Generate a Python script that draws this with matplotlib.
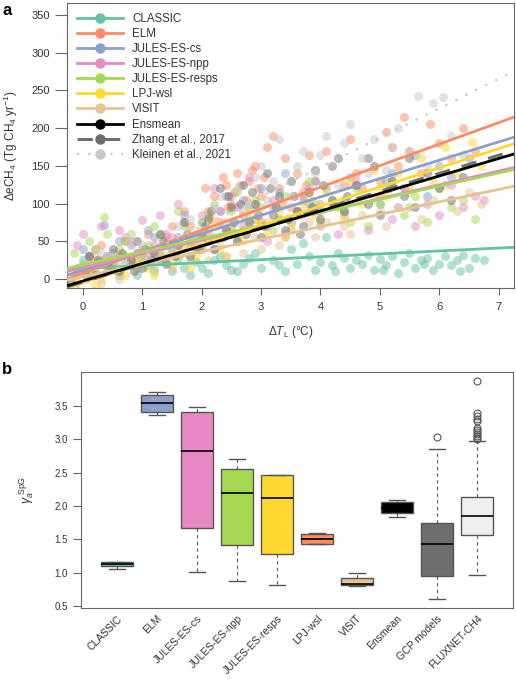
import numpy as np
import matplotlib
matplotlib.use("Agg")
import matplotlib.pyplot as plt
from matplotlib.lines import Line2D

plt.rcParams['font.family'] = ['Liberation Sans', 'DejaVu Sans']
plt.rcParams['mathtext.fontset'] = 'custom'
plt.rcParams['mathtext.rm'] = 'Liberation Sans'
plt.rcParams['mathtext.it'] = 'Liberation Sans:italic'

# ---- panel a data ----
series = ['CLASSIC', 'ELM', 'JULES-ES-cs', 'JULES-ES-npp', 'JULES-ES-resps',
          'LPJ-wsl', 'VISIT', 'Ensmean', 'Zhang et al., 2017', 'Kleinen et al., 2021']
colors = ['#66c2a5', '#fc8d62', '#8da0cb', '#e78ac3', '#a6d854',
          '#ffd92f', '#e5c494', '#000000', '#6e6e6e', '#c8c8c8']
slopes = [3.85, 28.5, 24.3, 18.3, 17.4, 25.4, 16.5, 23.2, 24.0, 39.0]
intercepts = [14.0, 7.7, 11.6, 15.0, 18.7, -5.1, 3.2, -2.7, -4.0, -7.7]

classic_x = [-0.1, 0.1, 0.3, 0.5, 0.7, 0.9, 1.1, 1.3, 1.5, 1.7, 1.9, 2.1, 2.3, 2.5, 2.7, 2.9, 3.0,
             3.2, 3.4, 3.5, 3.6, 3.7, 3.8, 3.9, 4.0, 4.1, 4.2, 4.3, 4.4, 4.5, 4.6, 4.7, 4.8, 4.9,
             5.0, 5.1, 5.2, 5.3, 5.4, 5.5, 5.6, 5.7, 5.8, 5.9, 6.0, 6.1, 6.2, 6.3, 6.4, 6.5, 6.6, 6.75,
             0.0, 0.2, 0.4, 0.6, 0.8, 1.0, 1.2, 1.4, 1.6, 1.8, 2.0, 2.2, 2.4, 2.6, 2.8, 3.3, 4.25,
             5.05, 5.75, 6.35]
classic_y = [15, 8, 20, 12, 25, 5, 18, 28, 10, 15, 22, 8, 30, 12, 20, 35, 15,
             25, 10, 40, 20, 48, 30, 12, 22, 55, 18, 35, 28, 15, 25, 20, 32, 12,
             26, 18, 30, 8, 22, 35, 15, 25, 28, 12, 20, 30, 18, 25, 32, 15, 28, 25,
             25, 12, 30, 5, 18, 35, 10, 22, 28, 5, 15, 25, 18, 10, 28, 18, 10,
             12, 20, 10]
elm_x = [-0.15, 0.0, 0.2, 0.4, 0.6, 0.8, 1.0, 1.2, 1.4, 1.6, 1.8, 2.0, 2.1, 2.2, 2.3, 2.4, 2.5,
         2.6, 2.7, 2.8, 2.9, 3.0, 3.1, 3.2, 3.3, 3.4, 3.5, 3.6, 3.7, 3.8, 3.9, 4.0, 4.2, 4.4,
         4.5, 4.6, 4.8, 5.0, 5.1, 5.3, 5.4, 5.5, 5.7, 5.85, 6.0, 6.2, 6.4, 6.6,
         0.1, 0.3, 0.5, 0.7, 0.9, 1.1, 1.3, 1.5, 1.7, 1.9, 2.05, 2.15, 2.35, 2.45, 2.55, 2.65,
         2.75, 2.85, 2.95, 3.05, 3.35, 3.75, 4.1, 4.7, 5.2]
elm_y = [5, 15, 25, 10, 30, 20, 40, 35, 55, 45, 70, 60, 90, 110, 75, 125, 100,
         140, 85, 130, 150, 110, 175, 190, 120, 160, 95, 140, 115, 165, 130, 100, 150, 125,
         185, 140, 160, 130, 195, 150, 215, 170, 140, 205, 180, 160, 200, 170,
         30, 45, 20, 50, 35, 60, 25, 70, 90, 50, 120, 80, 135, 95, 115, 125,
         105, 145, 120, 135, 100, 125, 170, 120, 175]
cs_x = [-0.1, 0.1, 0.35, 0.5, 0.8, 1.0, 1.2, 1.5, 1.7, 1.9, 2.1, 2.3, 2.5, 2.7, 2.9, 3.0, 3.2,
        3.4, 3.5, 3.7, 3.9, 4.0, 4.2, 4.4, 4.6, 4.8, 5.0, 5.2, 5.4, 5.6, 5.8, 6.0, 6.2, 6.5,
        0.0, 0.3, 0.6, 0.9, 1.1, 1.3, 1.6, 1.8, 2.0, 2.2, 2.4, 2.6, 2.8, 3.1, 3.3, 3.6, 3.8,
        4.1, 4.5, 5.1]
cs_y = [10, 30, 72, 20, 45, 25, 55, 40, 85, 60, 50, 90, 70, 105, 80, 120, 95,
        140, 75, 110, 130, 90, 150, 105, 125, 160, 100, 140, 120, 165, 110, 150, 135, 160,
        40, 25, 50, 35, 65, 30, 55, 45, 75, 40, 110, 60, 95, 70, 115, 90, 100,
        120, 135, 130]
npp_x = [-0.1, 0.1, 0.3, 0.5, 0.7, 0.9, 1.0, 1.2, 1.4, 1.6, 1.8, 2.0, 2.2, 2.4, 2.6, 2.8, 3.0,
         3.2, 3.4, 3.6, 3.8, 4.0, 4.2, 4.4, 4.6, 4.8, 5.0, 5.2, 5.4, 5.6, 5.8, 6.0, 6.2, 6.4,
         6.6, 6.75,
         0.0, 0.2, 0.4, 0.6, 0.8, 1.1, 1.3, 1.5, 1.7, 1.9, 2.1, 2.3, 2.5, 2.7, 2.9, 3.1, 3.3,
         3.7, 4.3, 5.3]
npp_y = [45, 20, 70, 35, 55, 25, 78, 45, 60, 100, 50, 85, 120, 65, 95, 135, 75,
         105, 60, 90, 120, 70, 100, 85, 130, 65, 110, 80, 120, 70, 100, 85, 125, 95,
         110, 105,
         60, 40, 30, 65, 50, 35, 85, 55, 75, 40, 60, 90, 110, 70, 100, 50, 80,
         105, 60, 95]
resps_x = [-0.15, 0.1, 0.3, 0.35, 0.6, 0.8, 1.0, 1.2, 1.4, 1.6, 1.8, 2.0, 2.2, 2.4, 2.6, 2.8,
           3.0, 3.2, 3.4, 3.6, 3.8, 4.0, 4.2, 4.4, 4.6, 4.8, 5.0, 5.2, 5.4, 5.6, 5.8, 6.0,
           6.2, 6.4, 6.6,
           0.0, 0.2, 0.4, 0.5, 0.7, 0.9, 1.1, 1.3, 1.5, 1.7, 1.9, 2.1, 2.3, 2.5, 2.7, 2.9,
           3.3, 3.9, 4.5, 5.5]
resps_y = [35, 50, 25, 82, 40, 60, 30, 70, 45, 90, 55, 75, 100, 60, 115, 80,
           95, 65, 110, 85, 130, 75, 105, 90, 120, 70, 100, 130, 85, 110, 75, 120,
           95, 105, 80,
           20, 40, 60, 30, 50, 20, 45, 60, 35, 70, 40, 85, 55, 90, 65, 105,
           80, 100, 75, 95]
lpj_x = [-0.1, 0.1, 0.3, 0.5, 0.7, 0.9, 1.1, 1.3, 1.5, 1.7, 1.9, 2.1, 2.3, 2.5, 2.7, 2.9, 3.1,
         3.3, 3.5, 3.7, 3.9, 4.1, 4.3, 4.5, 4.7, 4.9, 5.1, 5.3, 5.5, 5.7, 5.9, 6.1, 6.3, 6.55,
         6.7,
         0.0, 0.2, 0.4, 0.6, 0.8, 1.0, 1.2, 1.4, 1.6, 1.8, 2.0, 2.2, 2.4, 2.6, 2.8, 3.0,
         3.4, 3.8, 4.4, 5.0]
lpj_y = [-5, 10, 0, 20, 5, 25, 15, 35, 20, 45, 30, 55, 40, 65, 50, 80, 60,
         90, 70, 100, 85, 115, 95, 130, 100, 145, 110, 140, 120, 160, 130, 175, 140, 182,
         150,
         15, -8, 25, 10, 30, 20, 5, 45, 30, 15, 40, 70, 30, 55, 90, 75,
         55, 110, 80, 120]
visit_x = [-0.1, 0.1, 0.3, 0.5, 0.7, 0.9, 1.1, 1.3, 1.5, 1.7, 1.9, 2.1, 2.3, 2.5, 2.7, 2.9,
           3.1, 3.3, 3.5, 3.7, 3.9, 4.1, 4.3, 4.5, 4.7, 4.9, 5.1, 5.3, 5.5, 5.7, 5.9, 6.1,
           6.3, 6.5, 6.7,
           0.0, 0.2, 0.4, 0.6, 0.8, 1.0, 1.2, 1.4, 1.6, 1.8, 2.0, 2.2, 2.4, 2.6, 2.8, 3.0,
           3.4, 3.8, 4.4, 5.0]
visit_y = [5, 20, -5, 15, 30, 10, 25, 40, 15, 35, 50, 25, 45, 60, 35, 55,
           75, 45, 65, 85, 55, 75, 95, 60, 85, 105, 70, 95, 115, 80, 105, 125,
           90, 115, 100,
           10, 30, 20, 0, 25, 35, 15, 30, 50, 25, 40, 55, 30, 50, 70, 40,
           55, 75, 70, 90]
zhang_x = [-0.2, 0.0, 0.1, 0.2, 0.4, 0.5, 0.6, 0.8, 0.9, 1.0, 1.2, 1.3, 1.4, 1.6, 1.7, 1.8,
           2.0, 2.1, 2.2, 2.3, 2.4, 2.5, 2.6, 2.7, 2.8, 2.9, 3.0, 3.1, 3.2, 3.3, 3.4, 3.5,
           3.6, 3.7, 3.8, 3.9, 4.0, 4.2, 4.3, 4.4, 4.6, 4.8, 4.9, 5.0, 5.2, 5.4, 5.5, 5.6,
           5.8, 6.0, 6.2, 6.4,
           0.05, 0.25, 0.45, 0.65, 0.85, 1.05, 1.15, 1.35, 1.55, 1.75, 1.95, 2.05, 2.15, 2.35,
           2.45, 2.55, 2.65, 2.75, 2.85, 2.95, 3.05, 3.15, 3.25, 3.45, 3.55, 3.65, 3.85, 4.05,
           4.45, 5.15]
zhang_y = [-5, 15, 30, 5, 20, 40, 10, 25, 50, 15, 35, 60, 20, 45, 75, 30,
           55, 80, 40, 120, 65, 95, 50, 125, 75, 100, 55, 140, 85, 110, 65, 130,
           90, 70, 115, 145, 80, 105, 160, 90, 125, 100, 150, 85, 130, 110, 160, 95,
           140, 120, 105, 135,
           5, 25, 15, 35, 10, 40, 25, 50, 30, 60, 40, 70, 90, 55,
           110, 75, 100, 60, 115, 85, 70, 120, 95, 80, 110, 60, 95, 125,
           110, 120]
kleinen_x = [0.0, 0.3, 0.6, 1.0, 1.3, 1.6, 1.9, 2.2, 2.4, 2.6, 2.8, 3.0, 3.2, 3.3, 3.5, 3.7,
             3.9, 4.1, 4.3, 4.5, 4.7, 4.9, 5.1, 5.3, 5.5, 5.64, 5.8, 5.9, 6.06, 6.2, 6.4,
             0.5, 0.8, 1.1, 1.5, 1.8, 2.0, 2.3, 2.7, 2.9, 3.1, 3.6, 4.0, 4.4, 4.8, 5.2]
kleinen_y = [10, 35, 20, 45, 30, 70, 55, 95, 75, 120, 100, 150, 130, 185, 110, 170,
             140, 190, 125, 205, 160, 185, 145, 200, 170, 243, 150, 233, 241, 190, 165,
             30, 50, 25, 40, 80, 65, 110, 90, 135, 105, 150, 165, 180, 140, 175]

points = [(classic_x, classic_y), (elm_x, elm_y), (cs_x, cs_y), (npp_x, npp_y),
          (resps_x, resps_y), (lpj_x, lpj_y), (visit_x, visit_y), None,
          (zhang_x, zhang_y), (kleinen_x, kleinen_y)]

# ---- panel b data ----
box_labels = ['CLASSIC', 'ELM', 'JULES-ES-cs', 'JULES-ES-npp', 'JULES-ES-resps',
              'LPJ-wsl', 'VISIT', 'Ensmean', 'GCP models', 'FLUXNET-CH4']
box_colors = ['#66c2a5', '#8da0cb', '#e78ac3', '#a6d854', '#ffd92f',
              '#fc8d62', '#e5c494', '#000000', '#6e6e6e', '#efefef']
box_whislo = [1.06, 3.37, 1.01, 0.87, 0.81, 1.43, 0.80, 1.84, 0.60, 0.965]
box_q1 = [1.10, 3.41, 1.67, 1.41, 1.28, 1.43, 0.81, 1.89, 0.95, 1.565]
box_med = [1.13, 3.55, 2.83, 2.19, 2.12, 1.50, 0.83, 1.97, 1.43, 1.85]
box_q3 = [1.16, 3.67, 3.41, 2.56, 2.465, 1.58, 0.92, 2.06, 1.745, 2.135]
box_whishi = [1.16, 3.71, 3.48, 2.70, 2.465, 1.595, 0.995, 2.09, 2.855, 2.975]
box_fliers = [[], [], [], [], [], [], [], [], [3.04],
              [3.00, 3.02, 3.05, 3.08, 3.11, 3.14, 3.17, 3.27, 3.31, 3.35, 3.39, 3.87]]

grey = '#666666'
txt = '#333333'

fig = plt.figure(figsize=(5.16, 6.85), dpi=100)

# ================= panel a =================
ax = fig.add_axes([0.130, 0.5796, 0.866, 0.416])
for (xy, c) in zip(points, colors):
    if xy is None:
        continue
    ax.scatter(xy[0], xy[1], s=42, color=c, alpha=0.5, linewidths=0, zorder=2)

xline = np.array([-0.27, 7.26])
styles = ['-'] * 8 + [(0, (5, 4)), (0, (1, 4))]
widths = [2.0] * 8 + [2.2, 1.6]
for i, name in enumerate(series):
    ax.plot(xline, intercepts[i] + slopes[i] * xline, color=colors[i],
            ls=styles[i], lw=widths[i], zorder=3 + (i == 7))

ax.set_xlim(-0.27, 7.26)
ax.set_ylim(-12, 366)
ax.set_xticks(range(0, 8))
ax.set_yticks(range(0, 351, 50))
for s in ax.spines.values():
    s.set_color(grey)
ax.tick_params(axis='y', length=9, color=grey, labelcolor=txt, labelsize=8)
ax.tick_params(axis='x', length=5, color=grey, labelcolor=txt, labelsize=8, pad=5)
ax.set_xlabel(r'$\Delta\mathit{T}_{\mathrm{L}}$ (°C)', fontsize=8.5, color=txt)
ax.set_ylabel(r'$\Delta$eCH$_4$ (Tg CH$_4$ yr$^{-1}$)', fontsize=8.5, color=txt)
ax.yaxis.set_label_coords(-0.105, 0.5)
ax.xaxis.set_label_coords(0.5, -0.125)

handles = []
for i, name in enumerate(series):
    mc = colors[i]
    handles.append(Line2D([0], [0], color=colors[i], ls=styles[i], lw=widths[i],
                          marker='o', markersize=6.5, markerfacecolor=mc, markeredgecolor=mc))
leg = ax.legend(handles, series, loc='upper left', frameon=False, fontsize=8.3,
                handlelength=4.0, labelspacing=0.27, handletextpad=0.8,
                borderaxespad=0.5, borderpad=0.35)
for t in leg.get_texts():
    t.set_color(txt)

# ================= panel b =================
bx = fig.add_axes([0.157, 0.1124, 0.837, 0.3446])
stats = []
for i in range(len(box_labels)):
    stats.append(dict(label=box_labels[i], med=box_med[i], q1=box_q1[i], q3=box_q3[i],
                      whislo=box_whislo[i], whishi=box_whishi[i], fliers=box_fliers[i]))
pos = np.arange(1, len(box_labels) + 1)
bp = bx.bxp(stats, positions=pos, widths=0.8, patch_artist=True,
            boxprops=dict(edgecolor='#555555', linewidth=1.0),
            medianprops=dict(color='black', linewidth=1.2),
            whiskerprops=dict(color='#555555', linewidth=0.8, linestyle=(0, (3, 3))),
            capprops=dict(color='#555555', linewidth=1.0),
            flierprops=dict(marker='o', markerfacecolor='none', markeredgecolor='#555555',
                            markersize=5, markeredgewidth=0.8))
for patch, c in zip(bp['boxes'], box_colors):
    patch.set_facecolor(c)

bx.set_xlim(0.1, 10.9)
bx.set_ylim(0.47, 4.01)
bx.set_yticks([0.5, 1.0, 1.5, 2.0, 2.5, 3.0, 3.5])
bx.set_yticklabels(['%.1f' % v for v in [0.5, 1.0, 1.5, 2.0, 2.5, 3.0, 3.5]])
bx.set_xticks(pos)
bx.set_xticklabels(box_labels, rotation=45, ha='right', rotation_mode='anchor')
for s in bx.spines.values():
    s.set_color(grey)
bx.tick_params(axis='y', length=6, color=grey, labelcolor=txt, labelsize=7)
bx.tick_params(axis='x', length=0, labelcolor=txt, labelsize=7.5, pad=4)
bx.set_ylabel(r'$\gamma_a^{\ \mathrm{SpG}}$', fontsize=9, color=txt)
bx.yaxis.set_label_coords(-0.105, 0.5)

fig.text(0.004, 0.985, 'a', fontsize=12, fontweight='bold', va='center', ha='left')
fig.text(0.004, 0.461, 'b', fontsize=12, fontweight='bold', va='center', ha='left')

fig.savefig('out.png', dpi=100)
